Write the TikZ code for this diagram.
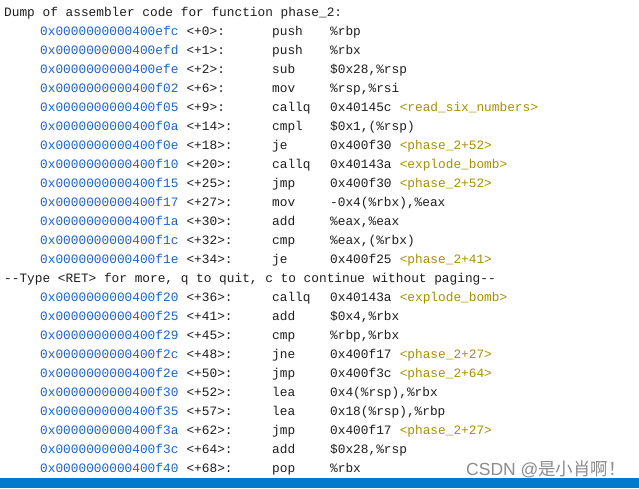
\documentclass[tikz,border=0pt]{standalone}
\usepackage{fontspec}
\setmainfont{Liberation Mono}
\newfontfamily\cjk{Noto Sans CJK SC}
\newfontfamily\sans{Liberation Sans}
\definecolor{addr}{HTML}{1E64C8}
\definecolor{fn}{HTML}{A89000}
\definecolor{txt}{HTML}{1E1E1E}
\definecolor{bar}{HTML}{007ACC}
\begin{document}
\begin{tikzpicture}[x=1pt,y=-1pt,
  t/.style={anchor=base west,inner sep=0pt,font=\fontsize{12.8}{14}\selectfont,text=txt},
  a/.style={t,text=addr}]
\useasboundingbox (0,0) rectangle (639,488);
\fill[white] (0,0) rectangle (639,488);
\fill[bar] (0,478) rectangle (639,488);
\node[t] (h) at (4,16) {Dump of assembler code for function phase\_2:};
\def\rows{%
0/400efc/{<+0>:}/push/{\%rbp}/,
1/400efd/{<+1>:}/push/{\%rbx}/,
2/400efe/{<+2>:}/sub/{\$0x28,\%rsp}/,
3/400f02/{<+6>:}/mov/{\%rsp,\%rsi}/,
4/400f05/{<+9>:}/callq/{0x40145c}/{<read\_six\_numbers>},
5/400f0a/{<+14>:}/cmpl/{\$0x1,(\%rsp)}/,
6/400f0e/{<+18>:}/je/{0x400f30}/{<phase\_2+52>},
7/400f10/{<+20>:}/callq/{0x40143a}/{<explode\_bomb>},
8/400f15/{<+25>:}/jmp/{0x400f30}/{<phase\_2+52>},
9/400f17/{<+27>:}/mov/{-0x4(\%rbx),\%eax}/,
10/400f1a/{<+30>:}/add/{\%eax,\%eax}/,
11/400f1c/{<+32>:}/cmp/{\%eax,(\%rbx)}/,
12/400f1e/{<+34>:}/je/{0x400f25}/{<phase\_2+41>},
14/400f20/{<+36>:}/callq/{0x40143a}/{<explode\_bomb>},
15/400f25/{<+41>:}/add/{\$0x4,\%rbx}/,
16/400f29/{<+45>:}/cmp/{\%rbp,\%rbx}/,
17/400f2c/{<+48>:}/jne/{0x400f17}/{<phase\_2+27>},
18/400f2e/{<+50>:}/jmp/{0x400f3c}/{<phase\_2+64>},
19/400f30/{<+52>:}/lea/{0x4(\%rsp),\%rbx}/,
20/400f35/{<+57>:}/lea/{0x18(\%rsp),\%rbp}/,
21/400f3a/{<+62>:}/jmp/{0x400f17}/{<phase\_2+27>},
22/400f3c/{<+64>:}/add/{\$0x28,\%rsp}/,
23/400f40/{<+68>:}/pop/{\%rbx}/}
\foreach \i/\ad/\off/\op/\arg/\f in \rows {
  \pgfmathsetmacro\yy{35+19*\i}
  \node[a] (ad\i) at (40,\yy) {0x0000000000\ad};
  \node[t] (of\i) at (ad\i.base east) [xshift=7.7] {\off};
  \node[t] (op\i) at (272,\yy) {\op};
  \node[t] (ar\i) at (330,\yy) {\arg};
  \node[t,text=fn] (fn\i) at (ar\i.base east) [xshift=7.7] {\f};
}
\node[t] (pg) at (4,282) {{-}{-}Type <RET> for more, q to quit, c to continue without paging{-}{-}};
\node[anchor=base west,inner sep=0pt,text=black!45,font=\fontsize{17.5}{18}\selectfont] (wm) at (466,475) {\sans CSDN @\cjk 是小肖啊！};
\end{tikzpicture}
\end{document}
